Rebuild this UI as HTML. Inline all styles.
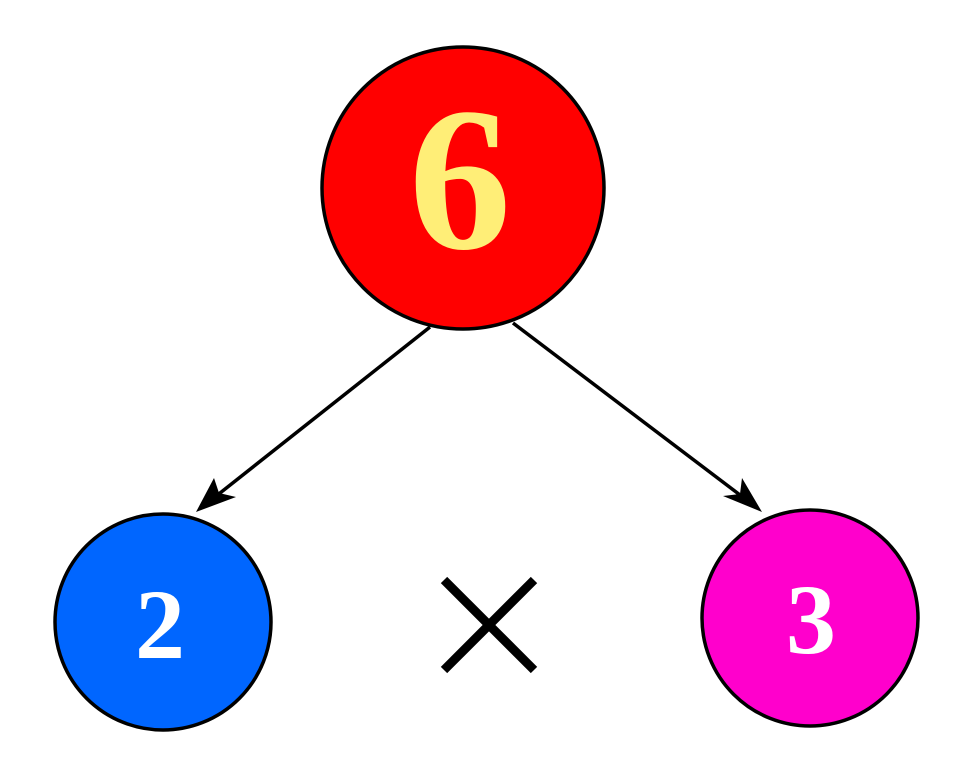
<!DOCTYPE html>
<html><head><style>body{margin:0;background:#fff}</style></head><body>
<svg width="970" height="770" viewBox="0 0 970 770" xmlns="http://www.w3.org/2000/svg">
<line x1="430" y1="327" x2="215" y2="497" stroke="#000" stroke-width="3.5"/>
<polygon points="196,512 214,478 219,493 236,497" fill="#000"/>
<line x1="513" y1="323" x2="744" y2="498" stroke="#000" stroke-width="3.5"/>
<polygon points="762,512 742,478 740,494 723,496" fill="#000"/>
<circle cx="463" cy="188" r="141" fill="#ff0000" stroke="#000" stroke-width="3.5"/>
<text x="460" y="248" text-anchor="middle" font-family="Liberation Serif, serif" font-weight="bold" font-size="205" fill="#ffee77">6</text>
<circle cx="163" cy="622" r="108" fill="#0066ff" stroke="#000" stroke-width="3.5"/>
<text x="160" y="658" text-anchor="middle" font-family="Liberation Serif, serif" font-weight="bold" font-size="100" fill="#fff">2</text>
<circle cx="810" cy="618" r="108" fill="#ff00cc" stroke="#000" stroke-width="3.5"/>
<text x="811" y="653" text-anchor="middle" font-family="Liberation Serif, serif" font-weight="bold" font-size="100" fill="#fff">3</text>
<line x1="444" y1="580" x2="534" y2="670" stroke="#000" stroke-width="9"/>
<line x1="534" y1="580" x2="444" y2="670" stroke="#000" stroke-width="9"/>
</svg>
</body></html>
